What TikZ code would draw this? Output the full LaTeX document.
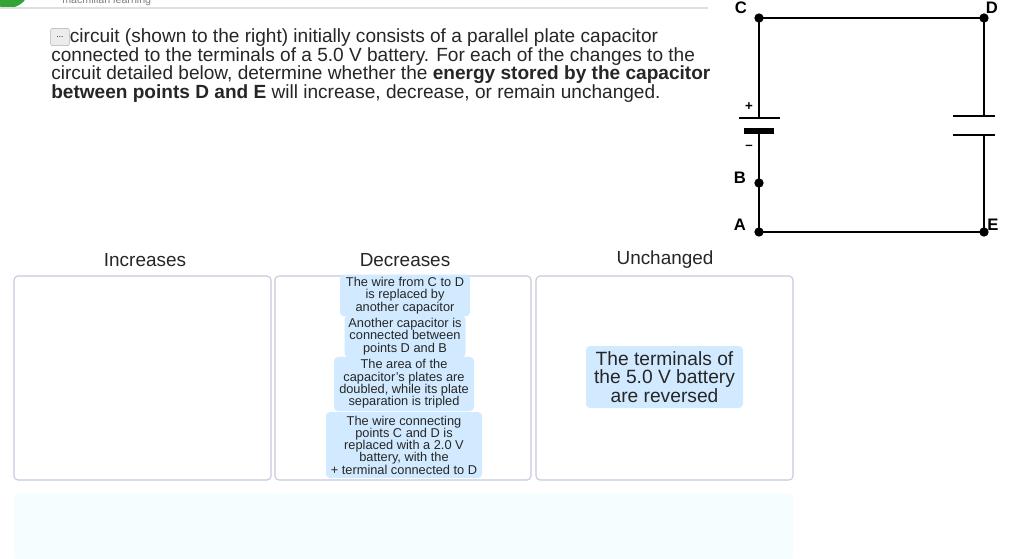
\documentclass[tikz,border=0pt]{standalone}
\usepackage{fontspec}
\setmainfont{Liberation Sans}
\begin{document}
\begin{tikzpicture}[x=0.75pt,y=-0.75pt,
  wire/.style={line width=1.7pt,black},
  dot/.style={circle,fill=black,inner sep=0pt,minimum size=7pt},
  lbl/.style={font=\fontsize{12.5}{13}\selectfont\bfseries},
  col/.style={draw=blue!25!gray!35,rounded corners=3pt,line width=0.8pt},
  card/.style={fill=blue!45!cyan!18!white,rounded corners=3pt,align=center,inner sep=2pt,text=black!85,font=\fontsize{9.6}{9.2}\selectfont},
  head/.style={font=\fontsize{14.2}{15}\selectfont,text=black!85}]
\useasboundingbox (0,0) rectangle (1024,558);
\fill[white] (0,0) rectangle (1024,558);
% top bar
\begin{scope}
\clip (0,0) rectangle (1024,558);
\fill[green!55!black!80] (8,-14) circle (22);
\node[anchor=base west,text=gray,font=\fontsize{8}{9}\selectfont,inner sep=0] (brand) at (62,3) {macmillan learning};
\end{scope}
\draw[gray!25,line width=1pt] (0,8) -- (708,8);
% question text
\node[draw=gray!60,fill=gray!15,rounded corners=1.5pt,minimum width=14pt,minimum height=13pt,inner sep=0pt,font=\fontsize{6}{6}\selectfont] (ic) at (60,37) {...};
\node[anchor=north west,align=left,inner sep=0,font=\fontsize{14.3}{14.2}\selectfont,text=black!85] (q) at (51,28)
{\hspace{14pt}circuit (shown to the right) initially consists of a parallel plate capacitor\\
connected to the terminals of a 5.0 V battery. For each of the changes to the\\
circuit detailed below, determine whether the \textbf{energy stored by the capacitor}\\
\textbf{between points D and E} will increase, decrease, or remain unchanged.};
% circuit
\coordinate (C) at (759,18); \coordinate (D) at (984,18);
\coordinate (A) at (759,232); \coordinate (E) at (984,232);
\coordinate (B) at (759,183);
\coordinate (bp) at (759,118); \coordinate (bm) at (759,131);
\coordinate (cp) at (984,116); \coordinate (cm) at (984,135);
\draw[wire] (bp) -- (C) -- (D) -- (cp);
\draw[wire] (cm) -- (E) -- (A) -- (bm);
\draw[line width=1.7pt] (739,118) -- (780,118);
\draw[line width=4pt] (744,131) -- (774,131);
\draw[line width=1.7pt] (953,116) -- (995,116);
\draw[line width=1.7pt] (953,135) -- (995,135);
\foreach \p in {C,D,A,E,B} \node[dot] (d\p) at (\p) {};
\node[lbl] (lC) at (741,8) {C};
\node[lbl] (lD) at (992,8) {D};
\node[lbl] (lB) at (740,178) {B};
\node[lbl] (lA) at (740,225) {A};
\node[lbl] (lE) at (993,225) {E};
\node[font=\fontsize{10}{10}\selectfont\bfseries] (pl) at (749,107) {+};
\node[font=\fontsize{10}{10}\selectfont\bfseries] (mi) at (749,147) {--};
% columns
\node[head] (h1) at (145,260) {Increases};
\node[head] (h2) at (405,260) {Decreases};
\node[head] (h3) at (665,260) {Unchanged};
\draw[col] (14,276) rectangle (271,480);
\draw[col] (275,276) rectangle (531,480);
\draw[col] (536,276) rectangle (793,480);
\fill[blue!20!cyan!4!white,rounded corners=3pt] (14,493) rectangle (793,560);
% cards
\node[card,minimum width=130*0.75pt,minimum height=39*0.75pt] (k1) at (405,295.5) {The wire from C to D\\is replaced by\\another capacitor};
\node[card,minimum width=121*0.75pt,minimum height=39*0.75pt] (k2) at (405,336.5) {Another capacitor is\\connected between\\points D and B};
\node[card,minimum width=140*0.75pt,minimum height=52*0.75pt] (k3) at (404,384) {The area of the\\capacitor's plates are\\doubled, while its plate\\separation is tripled};
\node[card,minimum width=156*0.75pt,minimum height=66*0.75pt] (k4) at (404,445) {The wire connecting\\points C and D is\\replaced with a 2.0 V\\battery, with the\\+ terminal connected to D};
\node[card,font=\fontsize{14.4}{13.8}\selectfont,minimum width=157*0.75pt,minimum height=62*0.75pt] (k5) at (664.5,377) {The terminals of\\the 5.0 V battery\\are reversed};
\end{tikzpicture}
\end{document}
